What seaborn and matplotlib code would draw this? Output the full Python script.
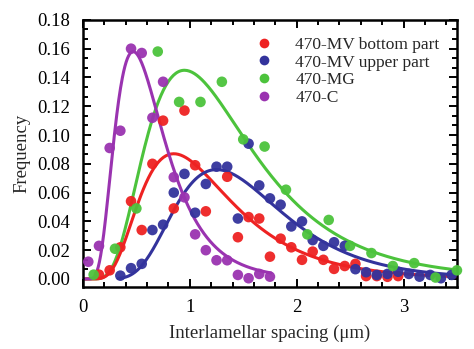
import numpy as np
import pandas as pd
import matplotlib
matplotlib.use("Agg")
import matplotlib.pyplot as plt
from matplotlib.ticker import AutoMinorLocator, MultipleLocator
import seaborn as sns

# Measured frequency distributions of interlamellar spacing (um)
mv_bottom_x = [0.15, 0.25, 0.35, 0.45, 0.55, 0.65, 0.75, 0.85, 0.95, 1.05, 1.15, 1.35,
               1.45, 1.55, 1.65, 1.75, 1.85, 1.95, 2.05, 2.15, 2.25, 2.35, 2.45, 2.55,
               2.65, 2.75, 2.85, 2.95]
mv_bottom_y = [0.003, 0.006, 0.022, 0.054, 0.034, 0.080, 0.110, 0.049, 0.117, 0.079, 0.047, 0.071,
               0.029, 0.043, 0.042, 0.0155, 0.028, 0.022, 0.0133, 0.019, 0.0133, 0.007, 0.009, 0.0105,
               0.002, 0.002, 0.0015, 0.002]

mv_upper_x = [0.35, 0.45, 0.55, 0.65, 0.75, 0.85, 0.95, 1.05, 1.15, 1.25, 1.35, 1.45,
              1.55, 1.65, 1.75, 1.85, 1.95, 2.05, 2.15, 2.25, 2.35, 2.45, 2.55, 2.65,
              2.75, 2.85, 2.95, 3.05, 3.15, 3.25, 3.35, 3.45]
mv_upper_y = [0.0023, 0.0075, 0.0105, 0.034, 0.0377, 0.060, 0.073, 0.046, 0.066, 0.078, 0.078, 0.042,
              0.094, 0.065, 0.056, 0.0516, 0.0365, 0.040, 0.027, 0.023, 0.0255, 0.023, 0.0068, 0.0047,
              0.0028, 0.0035, 0.005, 0.0035, 0.0016, 0.0028, 0.0005, 0.0028]

mg_x = [0.10, 0.30, 0.50, 0.70, 0.90, 1.10, 1.30, 1.50, 1.70, 1.90, 2.10, 2.30,
        2.50, 2.70, 2.90, 3.10, 3.30, 3.50]
mg_y = [0.003, 0.021, 0.049, 0.158, 0.123, 0.123, 0.137, 0.097, 0.092, 0.062, 0.031, 0.041,
        0.023, 0.018, 0.009, 0.011, 0.001, 0.006]

c_x = [0.05, 0.15, 0.25, 0.35, 0.45, 0.55, 0.65, 0.75, 0.85, 0.95, 1.05, 1.15,
       1.25, 1.35, 1.45, 1.55, 1.65, 1.75]
c_y = [0.012, 0.023, 0.091, 0.103, 0.160, 0.157, 0.112, 0.137, 0.0707, 0.0567, 0.031, 0.020,
       0.0130, 0.0130, 0.0028, 0.0005, 0.0035, 0.0016]

series_names = ["470-MV bottom part", "470-MV upper part", "470-MG", "470-C"]
series_colors = ["#ee2222", "#33339c", "#4cc33c", "#9a33b0"]

# Log-normal fit parameters per series: peak height, peak position, log-width, fit range
fit_height = [0.087, 0.076, 0.145, 0.158]
fit_mode = [0.85, 1.25, 0.95, 0.47]
fit_width = [0.50, 0.40, 0.52, 0.49]
fit_start = [0.02, 0.33, 0.02, 0.02]
fit_end = [3.50, 3.47, 3.50, 1.76]

xs = [mv_bottom_x, mv_upper_x, mg_x, c_x]
ys = [mv_bottom_y, mv_upper_y, mg_y, c_y]
points = pd.concat(
    [pd.DataFrame({"spacing": x, "freq": y, "sample": n}) for x, y, n in zip(xs, ys, series_names)],
    ignore_index=True,
)

fits = []
for n, h, m, w, a, b in zip(series_names, fit_height, fit_mode, fit_width, fit_start, fit_end):
    grid = np.linspace(a, b, 300)
    fits.append(pd.DataFrame({
        "spacing": grid,
        "freq": h * np.exp(-np.log(grid / m) ** 2 / (2 * w ** 2)),
        "sample": n,
    }))
fits = pd.concat(fits, ignore_index=True)

sns.set_theme(style="white")
plt.rcParams["font.family"] = ["Liberation Serif", "DejaVu Serif"]

fig = plt.figure(figsize=(4.74, 3.49), dpi=100)
ax = fig.add_axes([0.175, 0.178, 0.789, 0.765])

palette = dict(zip(series_names, series_colors))
draw_order = ["470-MG", "470-MV bottom part", "470-MV upper part", "470-C"]

sns.lineplot(data=fits, x="spacing", y="freq", hue="sample", hue_order=draw_order,
             palette=palette, linewidth=2.2, legend=False, ax=ax, sort=False,
             estimator=None, units="sample")
sns.scatterplot(data=points, x="spacing", y="freq", hue="sample", hue_order=draw_order,
                palette=palette, s=58, linewidth=0, alpha=0.95, ax=ax, legend=False,
                zorder=3)
for coll in ax.collections:
    coll.set_clip_on(False)

ax.set_xlim(0, 3.5)
ax.set_ylim(-0.0055, 0.18)
ax.xaxis.set_major_locator(MultipleLocator(1))
ax.xaxis.set_minor_locator(AutoMinorLocator(5))
ax.yaxis.set_major_locator(MultipleLocator(0.02))
ax.yaxis.set_minor_locator(AutoMinorLocator(3))
ax.set_yticks(np.arange(0, 0.181, 0.02))
ax.set_yticklabels([f"{v:.2f}" for v in np.arange(0, 0.181, 0.02)])
ax.set_xticks([0, 1, 2, 3])
ax.set_xticklabels(["0", "1", "2", "3"])

ax.tick_params(which="both", direction="in", top=True, right=True, bottom=True, left=True,
               width=1.4, colors="black", labelsize=13.5)
ax.tick_params(which="major", length=6, pad=9)
ax.tick_params(which="minor", length=3.5)
for sp in ax.spines.values():
    sp.set_linewidth(1.8)
    sp.set_color("black")

ax.set_xlabel("Interlamellar spacing (μm)", fontsize=13.5, labelpad=6)
ax.set_ylabel("Frequency", fontsize=13.5, labelpad=5)

handles = [plt.Line2D([], [], marker="o", linestyle="none", markersize=7,
                      markerfacecolor=c, markeredgewidth=0) for c in series_colors]
ax.legend(handles, series_names, loc="upper right", frameon=False, fontsize=12.5,
          handletextpad=0.8, labelspacing=0.08, borderaxespad=0.5,
          bbox_to_anchor=(0.995, 0.995))

fig.savefig("out.png", dpi=100)
